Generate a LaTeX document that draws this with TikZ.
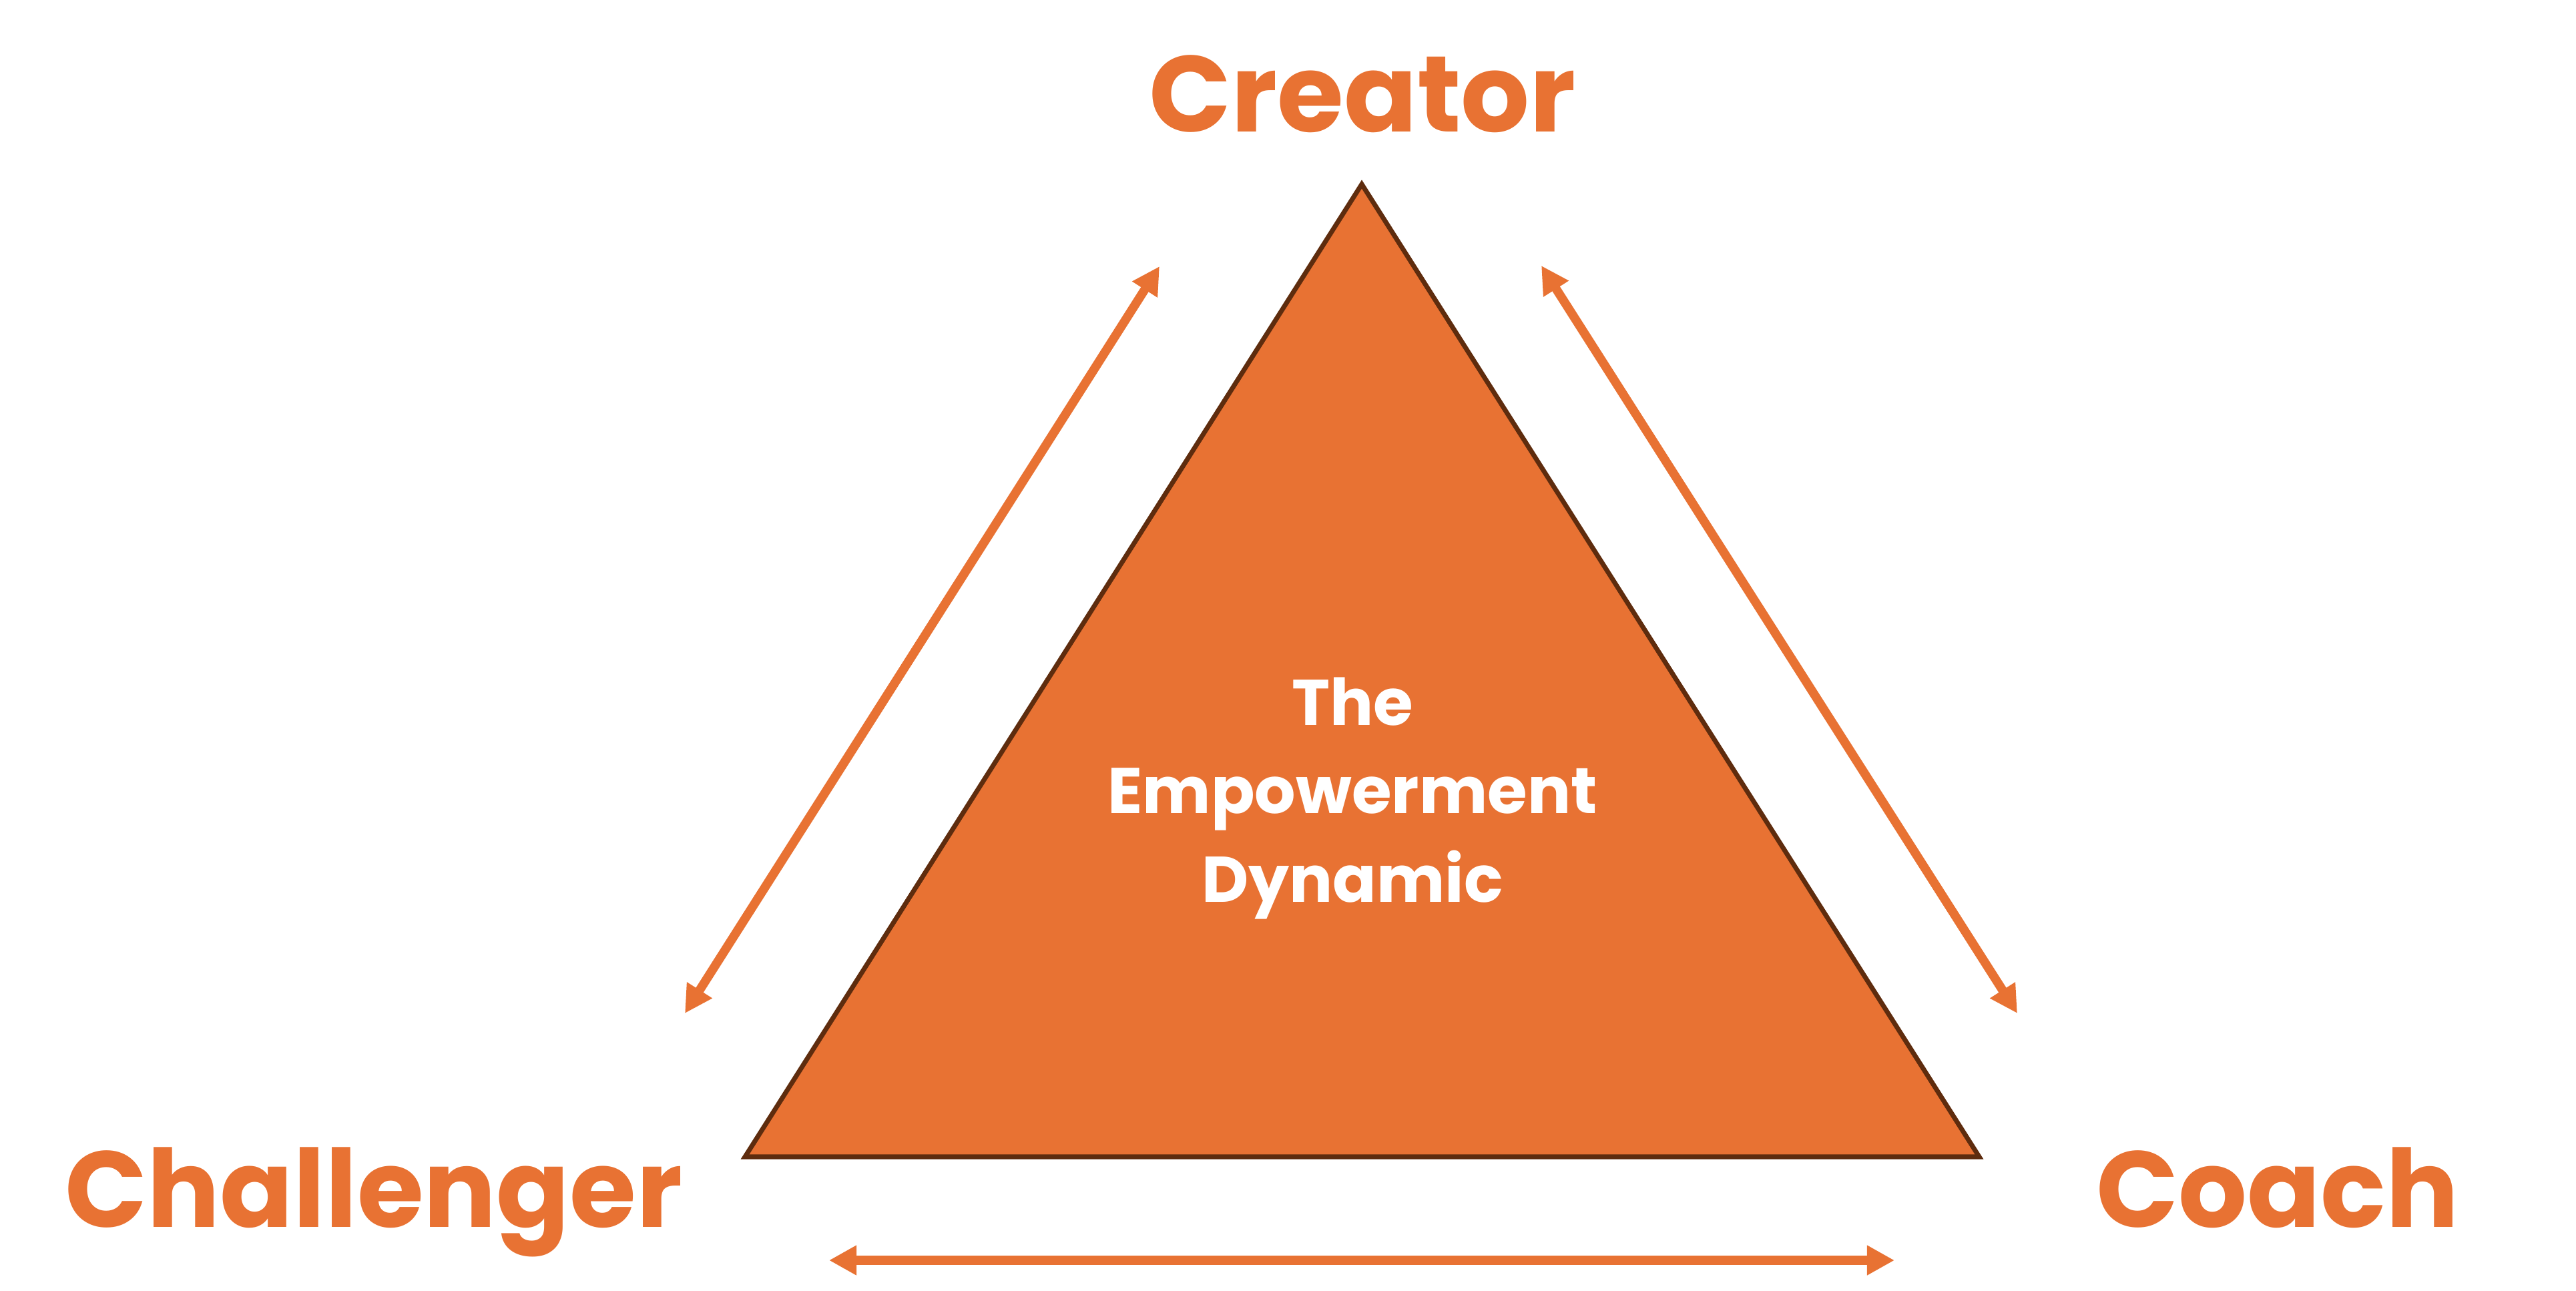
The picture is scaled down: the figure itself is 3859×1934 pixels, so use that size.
\documentclass[tikz,border=0pt]{standalone}
\usepackage{fontspec}
\setmainfont{Poppins}
\usetikzlibrary{arrows.meta}
\definecolor{tedorange}{HTML}{E87233}
\definecolor{tedbrown}{HTML}{5E2C0E}

\begin{document}
\begin{tikzpicture}[x=0.01cm,y=-0.01cm,
   every node/.style={inner sep=0pt},
   role/.style={text=tedorange,anchor=base,
                font=\fontsize{46}{56}\selectfont\bfseries},
   core/.style={text=white,align=center,
                font=\fontsize{27.5}{37.6}\selectfont\bfseries},
   tri/.style={draw=tedbrown,fill=tedorange,line width=2pt,line join=miter},
   link/.style={tedorange,line width=3.8pt,
                {Triangle[length=11.7pt,width=12pt]}-{Triangle[length=11.7pt,width=12pt]}}
]
\useasboundingbox (0,0) rectangle (3859,1934);

% =========== Triangle ============
\coordinate (apex)  at (2040,276);
\coordinate (left)  at (1116,1733);
\coordinate (right) at (2965,1733);
\draw[tri] (apex) -- (left) -- (right) -- cycle;

\node[core] (dynamic) at (2026,1196) {The\\Empowerment\\Dynamic};

% =========== Roles ============
\node[role] (creator)    at (2041,198)  {Creator};
\node[role] (challenger) at (560,1838)  {Challenger};
\node[role] (coach)      at (3412,1838) {Coach};

% =========== Two-way links ============
\coordinate (crL) at (1737,399);
\coordinate (chU) at (1026,1518);
\coordinate (crR) at (2309,398);
\coordinate (coU) at (3022,1518);
\coordinate (chB) at (1242,1888);
\coordinate (coB) at (2838,1888);

\draw[link] (chU) -- (crL);
\draw[link] (crR) -- (coU);
\draw[link] (chB) -- (coB);

\end{tikzpicture}
\end{document}
